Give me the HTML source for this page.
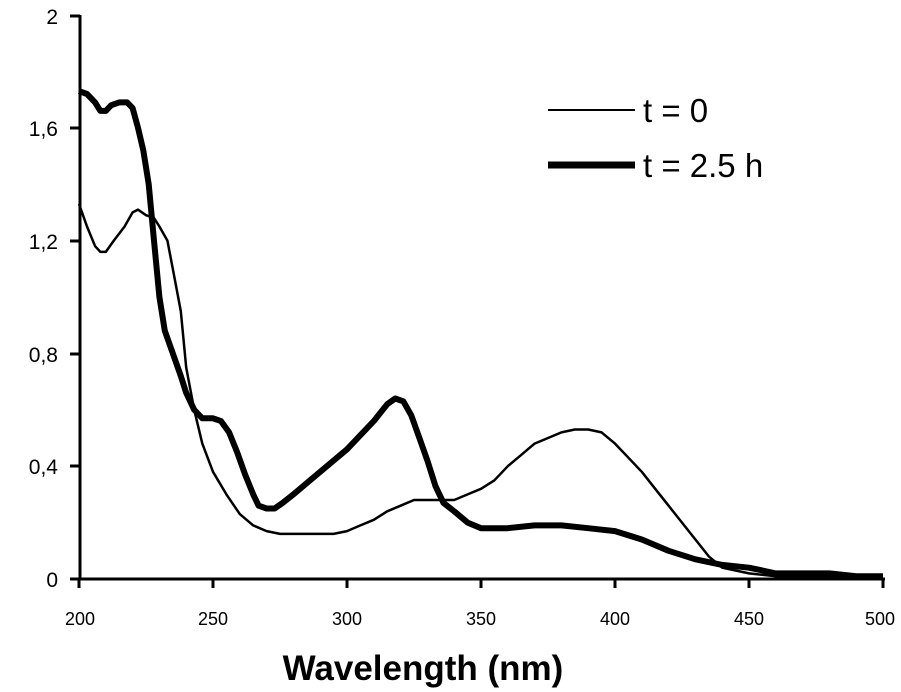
<!DOCTYPE html>
<html><head><meta charset="utf-8"><style>
html,body{margin:0;padding:0;background:#fff;}
svg{display:block;font-family:"Liberation Sans",Arial,sans-serif;}
</style></head><body>
<svg id="s" width="901" height="692" viewBox="0 0 901 692" xmlns="http://www.w3.org/2000/svg">
<g stroke="#000" stroke-width="3" fill="none">
<line x1="80" y1="15" x2="80" y2="580"/>
<line x1="70" y1="579" x2="885" y2="579"/>
<line x1="70" y1="16" x2="80" y2="16"/>
<line x1="70" y1="128" x2="80" y2="128"/>
<line x1="70" y1="241" x2="80" y2="241"/>
<line x1="70" y1="354" x2="80" y2="354"/>
<line x1="70" y1="466" x2="80" y2="466"/>
<line x1="79" y1="579" x2="79" y2="588"/>
<line x1="213" y1="579" x2="213" y2="588"/>
<line x1="347" y1="579" x2="347" y2="588"/>
<line x1="481" y1="579" x2="481" y2="588"/>
<line x1="615" y1="579" x2="615" y2="588"/>
<line x1="749" y1="579" x2="749" y2="588"/>
<line x1="883" y1="579" x2="883" y2="588"/>
</g>
<g font-size="21" text-anchor="end" fill="#000">
<text x="58" y="24">2</text>
<text x="58" y="136">1,6</text>
<text x="58" y="249">1,2</text>
<text x="58" y="362">0,8</text>
<text x="58" y="474">0,4</text>
<text x="58" y="587">0</text>
</g>
<g font-size="18" text-anchor="middle" fill="#000">
<text x="80" y="625">200</text>
<text x="213" y="625">250</text>
<text x="347" y="625">300</text>
<text x="481" y="625">350</text>
<text x="615" y="625">400</text>
<text x="749" y="625">450</text>
<text x="880" y="625">500</text>
</g>
<text x="423" y="680" font-size="35" font-weight="bold" text-anchor="middle">Wavelength (nm)</text>
<line x1="548" y1="110" x2="635" y2="110" stroke="#000" stroke-width="2"/>
<text x="643" y="122" font-size="33">t = 0</text>
<line x1="548" y1="165" x2="635" y2="165" stroke="#000" stroke-width="7"/>
<text x="643" y="177" font-size="33">t = 2.5 h</text>
<polyline id="a" fill="none" stroke="#000" stroke-width="2.5" stroke-linejoin="round"/>
<polyline id="b" fill="none" stroke="#000" stroke-width="6" stroke-linejoin="round"/>
</svg>
<script>
function P(d){return d.map(function(p){return (79+(p[0]-200)*2.68).toFixed(1)+","+(579-p[1]*282).toFixed(1)}).join(" ")}
var A=[[200,1.33],[203,1.25],[206,1.18],[208,1.16],[210,1.16],[213,1.2],[217,1.25],[220,1.3],[222,1.31],[225,1.29],[228,1.28],[230,1.25],[233,1.2],[235,1.1],[238,0.95],[240,0.75],[243,0.6],[246,0.48],[250,0.38],[255,0.3],[260,0.23],[265,0.19],[270,0.17],[275,0.16],[295,0.16],[300,0.17],[305,0.19],[310,0.21],[315,0.24],[320,0.26],[325,0.28],[340,0.28],[345,0.3],[350,0.32],[355,0.35],[360,0.4],[365,0.44],[370,0.48],[375,0.5],[380,0.52],[385,0.53],[390,0.53],[395,0.52],[400,0.48],[405,0.43],[410,0.38],[415,0.32],[420,0.26],[425,0.2],[430,0.14],[435,0.08],[440,0.04],[445,0.03],[450,0.02],[460,0.01],[500,0.01]];
var B=[[200,1.73],[203,1.72],[206,1.69],[208,1.66],[210,1.66],[212,1.68],[215,1.69],[218,1.69],[220,1.67],[222,1.6],[224,1.52],[226,1.4],[228,1.2],[230,1.0],[232,0.88],[235,0.8],[238,0.72],[240,0.66],[243,0.6],[246,0.57],[250,0.57],[253,0.56],[256,0.52],[259,0.45],[262,0.37],[265,0.3],[267,0.26],[270,0.25],[273,0.25],[276,0.27],[280,0.3],[285,0.34],[290,0.38],[295,0.42],[300,0.46],[305,0.51],[310,0.56],[315,0.62],[318,0.64],[321,0.63],[324,0.58],[327,0.5],[330,0.42],[333,0.33],[336,0.27],[340,0.24],[345,0.2],[350,0.18],[360,0.18],[370,0.19],[380,0.19],[390,0.18],[400,0.17],[410,0.14],[420,0.1],[430,0.07],[440,0.05],[450,0.04],[455,0.03],[460,0.02],[480,0.02],[490,0.01],[500,0.01]];
document.getElementById("a").setAttribute("points",P(A));
document.getElementById("b").setAttribute("points",P(B));
</script>
</body></html>
